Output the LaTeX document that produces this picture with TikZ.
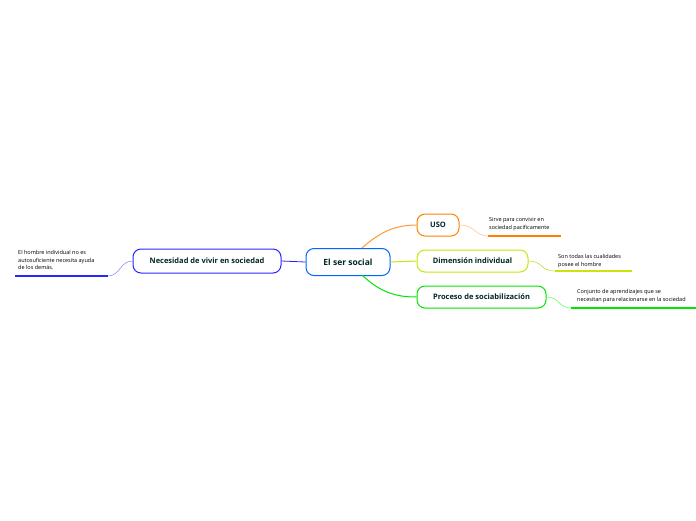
\documentclass[tikz,border=0pt]{standalone}
\usepackage{fontspec}
\setmainfont{Open Sans}
\begin{document}
\begin{tikzpicture}[x=1pt,y=-1pt,
  topic/.style={draw=#1,line width=1pt,rounded corners=8pt,fill=white,font=\bfseries\fontsize{7.5}{9}\selectfont,text=black!70!teal,inner sep=0pt},
  leaf/.style={font=\fontsize{5.5}{7.5}\selectfont,align=left,anchor=west,inner sep=0pt},
  ul/.style={draw=#1,line width=1.2pt}]
\useasboundingbox (0,0) rectangle (696,520);
\node[topic=blue!60!cyan,minimum width=84pt,minimum height=27pt,font=\bfseries\fontsize{8.5}{10}\selectfont] (c) at (348,262) {El ser social};
\node[topic=blue!85,minimum width=148pt,minimum height=24pt] (n) at (207,261) {Necesidad de vivir en sociedad};
\node[topic=orange,minimum width=42pt,minimum height=22pt] (u) at (438,225) {USO};
\node[topic=yellow!80!green,minimum width=111pt,minimum height=22pt] (d) at (472.5,261) {Dimensión individual};
\node[topic=green!90!black,minimum width=129pt,minimum height=22pt] (p) at (481.5,297) {Proceso de sociabilización};
\node[leaf] (ln) at (18,260) {El hombre individual no es\\autosuficiente necesita ayuda\\ de los demás.};
\node[leaf] (lu) at (489,224) {Sirve para convivir en\\sociedad pacificamente};
\node[leaf] (ld) at (558,261) {Son todas las cualidades\\ posee el hombre};
\node[leaf] (lp) at (577,296) {Conjunto de aprendizajes que se\\ necesitan para relacionarse en la sociedad};
\coordinate (a1) at (15,276); \coordinate (a2) at (108,276);
\coordinate (b1) at (488,236); \coordinate (b2) at (561,236);
\coordinate (c1) at (555,271); \coordinate (c2) at (632,271);
\coordinate (d1) at (571,308); \coordinate (d2) at (696,308);
\draw[ul=blue!85] (a1)--(a2);
\draw[ul=orange] (b1)--(b2);
\draw[ul=yellow!80!green] (c1)--(c2);
\draw[ul=green!90!black] (d1)--(d2);
\draw[blue!85,line width=0.8pt] (c.west)--(n.east);
\draw[orange!80,line width=1pt] (362,248) .. controls (380,232) and (395,225) .. (u.west);
\draw[yellow!80!green,line width=1pt] (c.east)--(d.west);
\draw[green!90!black,line width=1pt] (362,275) .. controls (380,292) and (395,297) .. (p.west);
\draw[blue!50,line width=0.5pt] (n.west) .. controls (120,261) and (120,276) .. (a2);
\draw[orange!50,line width=0.5pt] (u.east) .. controls (475,225) and (475,236) .. (b1);
\draw[yellow!70!green,line width=0.5pt] (d.east) .. controls (543,261) and (540,271) .. (c1);
\draw[green!70,line width=0.5pt] (p.east) .. controls (560,297) and (558,308) .. (d1);
\end{tikzpicture}
\end{document}
